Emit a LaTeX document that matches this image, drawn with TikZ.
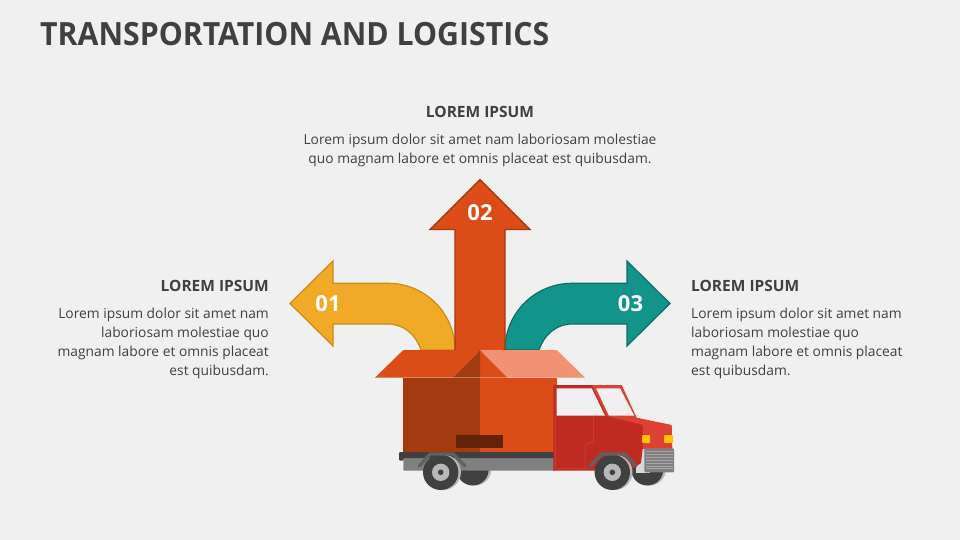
\documentclass[tikz,border=0pt]{standalone}
\usepackage{fontspec}
\setmainfont{Open Sans}
\newfontfamily\titlefont[FakeStretch=0.945,BoldFont={Open Sans Bold}]{Open Sans}
\definecolor{pagegray}{HTML}{F0F0F0}
\definecolor{inkgray}{HTML}{404040}
\definecolor{amber}{HTML}{F0AA28}
\definecolor{amberdark}{HTML}{C88C18}
\definecolor{rust}{HTML}{DC4C18}
\definecolor{rustdark}{HTML}{A33A10}
\definecolor{salmon}{HTML}{F19274}
\definecolor{teal}{HTML}{12948A}
\definecolor{tealdark}{HTML}{0F6E68}
\definecolor{cabred}{HTML}{BF2B23}
\definecolor{cablight}{HTML}{DD4035}
\definecolor{lampyellow}{HTML}{FFC000}
\newcommand\wheelat[3]{
  \fill[black!28] (#1+2.5,#2) circle (#3);
  \fill[inkgray] (#1,#2) circle (#3);
}
\newcommand\hubat[2]{
  \fill[black!28] (#1,#2) circle (8.7);
  \fill[inkgray] (#1,#2) circle (2.8);
}

\begin{document}
\begin{tikzpicture}
    [x=1pt, y=-1pt,
      headtext/.style={font=\fontsize{15.5}{19}\selectfont\bfseries, text=inkgray, inner sep=0pt},
      bodytext/.style={font=\fontsize{13.8}{19}\selectfont, text=inkgray, inner sep=0pt},
      numtext/.style={font=\fontsize{22}{24}\selectfont\bfseries, text=white, inner sep=0pt},
      fender/.style={draw=black!62, line width=3.2pt, line cap=round, line join=round}]
    \fill[pagegray] (0,0) rectangle (960,540);
    \node[anchor=west, font=\titlefont\fontsize{32}{36}\selectfont\bfseries, text=inkgray, inner sep=0pt] (title) at (40,34.5) {TRANSPORTATION AND LOGISTICS};

    \draw[fill=amber, draw=amberdark, line width=1.2pt, line join=miter]
      (290,303.5) -- (333,261) -- (333,283.3) -- (388,283.3)
      .. controls (425,283.3) and (455,313) .. (455,350)
      -- (421,350) .. controls (416,335) and (404,324) .. (388,324)
      -- (333,324) -- (333,346) -- cycle;
    \draw[fill=teal, draw=tealdark, line width=1.2pt, line join=miter]
      (670,303.5) -- (627,261) -- (627,283.3) -- (572,283.3)
      .. controls (535,283.3) and (505,313) .. (505,350)
      -- (539,350) .. controls (544,335) and (556,324) .. (572,324)
      -- (627,324) -- (627,346) -- cycle;
    \draw[fill=rust, draw=rustdark, line width=1.2pt, line join=miter]
      (480,179.5) -- (430,229.5) -- (455,229.5) -- (455,352) -- (505,352) -- (505,229.5) -- (530,229.5) -- cycle;

    \node[numtext] (num1) at (328,303.5) {01};
    \node[numtext] (num2) at (480,213) {02};
    \node[numtext] (num3) at (630.5,303.5) {03};

    \node[headtext] (head2) at (480,111.5) {LOREM IPSUM};
    \node[bodytext, align=center, anchor=north] (body2) at (480,134) {Lorem ipsum dolor sit amet nam laboriosam molestiae\\quo magnam labore et omnis placeat est quibusdam.};
    \node[headtext, anchor=east] (head1) at (269,285.5) {LOREM IPSUM};
    \node[bodytext, align=right, anchor=north east] (body1) at (269,308) {Lorem ipsum dolor sit amet nam\\laboriosam molestiae quo\\magnam labore et omnis placeat\\est quibusdam.};
    \node[headtext, anchor=west] (head3) at (691,285.5) {LOREM IPSUM};
    \node[bodytext, align=left, anchor=north west] (body3) at (691,308) {Lorem ipsum dolor sit amet nam\\laboriosam molestiae quo\\magnam labore et omnis placeat\\est quibusdam.};

    \wheelat{472.7}{469.5}{16}
    \wheelat{647.3}{469.5}{16}

    \fill[rustdark] (403.3,377.7) rectangle (480,453);
    \fill[rust] (480,377.7) rectangle (557,453);
    \fill[rust] (480,350) -- (507.7,377.7) -- (480,377.7) -- cycle;
    \fill[rustdark] (480,350) -- (452.7,377.7) -- (480,377.7) -- cycle;
    \fill[rust] (403.3,350) -- (480,350) -- (452.7,377.7) -- (375,377.7) -- cycle;
    \fill[salmon] (480,350) -- (556.7,350) -- (585,377.7) -- (507.7,377.7) -- cycle;
    \fill[rustdark!60!black] (456,435) rectangle (503,448);

    \fill[black!50, rounded corners=1pt] (403.3,456) rectangle (556,470.7);
    \fill[inkgray, rounded corners=1pt] (399,452) -- (556,452) -- (556,458) -- (403.3,458) -- (403.3,460.7) -- (399,460.7) -- cycle;

    \fill[black!15] (636,448.3) rectangle (650,472.5);
    \fill[cablight] (553.3,385) -- (621.7,385) -- (636.7,417.7) -- (671.7,425) -- (672.3,449) -- (620,449) -- (600,417) -- cycle;
    \fill[cabred] (553.3,385) -- (591.7,385) -- (608.5,416.7) -- (642.7,425) -- (642.7,448.3) -- (641,463) -- (630,470.7) -- (553.3,470.7) -- cycle;
    \fill[cablight] (591.7,385) -- (621.7,385) -- (621.7,388.3) -- (596,388.3) -- (609,415.7) -- (607,416.5) -- cycle;
    \fill[pagegray] (556.7,388.3) -- (591.7,388.3) -- (605,415.7) -- (556.7,415.7) -- cycle;
    \fill[pagegray] (596,388.3) -- (620,388.3) -- (634.3,415.7) -- (609,415.7) -- cycle;
    \draw[cablight, line width=0.5pt] (555.7,416) -- (555.7,468.3) -- (585,468.3) -- (585,449)
      .. controls (585,444) and (589,441.7) .. (593.3,441.7) -- (593.3,415.7);

    \fill[lampyellow, rounded corners=1pt] (642,435) rectangle (650,443);
    \fill[lampyellow, rounded corners=1pt] (664,435) rectangle (673,443);
    \fill[black!50, rounded corners=1pt] (644.3,448.3) rectangle (674,472.3);
    \foreach \ypos in {451.5,454.4,457.3,460.2,463.1,466,468.9}
      \draw[black!35, line width=0.9pt] (646,\ypos) -- (672.5,\ypos);

    \wheelat{440.7}{472.3}{17.7}
    \hubat{440.7}{472.3}
    \wheelat{612.3}{472.3}{17.7}
    \hubat{612.3}{472.3}
    \draw[fender] (419.3,466) -- (430,454) -- (453.3,454) -- (465,466);
    \draw[fender] (590,466) -- (601.7,454) -- (625,454) -- (636,466);
  \end{tikzpicture}
\end{document}
